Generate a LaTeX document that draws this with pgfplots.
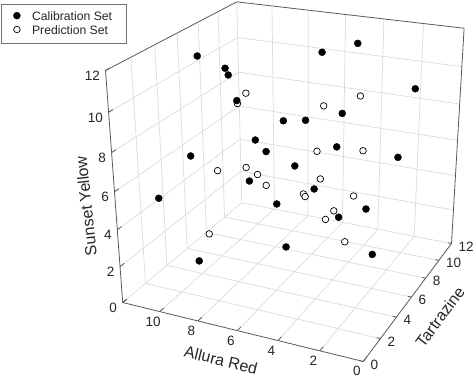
\documentclass[border=0pt]{standalone}
\usepackage{pgfplots}
\usepackage{pgfplotstable}
\pgfplotsset{compat=1.18}
\usepackage{fontspec}
\setmainfont{Liberation Sans}

% perspective projection of (Allura Red a, Tartrazine b, Sunset Yellow c) onto the picture plane
\newcommand\PU{((363.3-19.0375*\thisrow{a}+14.9875*\thisrow{b}-2.41*\thisrow{c})/(1+0.00825*\thisrow{a}+0.0169167*\thisrow{b}-0.0079167*\thisrow{c}))}
\newcommand\PV{(-(361.5-2.42083*\thisrow{a}-5.71083*\thisrow{b}-21.80583*\thisrow{c})/(1+0.00825*\thisrow{a}+0.0169167*\thisrow{b}-0.0079167*\thisrow{c}))}

\pgfplotsset{
  /pgfplots/table/proj/.style={/pgfplots/table/x expr=\PU,/pgfplots/table/y expr=\PV},
  gridc/.style={draw=black!14, line width=0.7pt},
  boxc/.style={draw=black!65, line width=0.8pt},
}
\newcommand\seg[7]{\addplot[#1,forget plot] table[proj,row sep=\\]{a b c\\#2 #3 #4\\#5 #6 #7\\};}
\newcommand\tickfont{\fontsize{13.5}{16}\selectfont}
\newcommand\labfont{\fontsize{16}{19}\selectfont}

% Calibration Set: Allura Red, Tartrazine, Sunset Yellow
\pgfplotstableread{
a b c
10.39 5 11.34
11.15 9 9.32
7.18 2 11.82
7.87 4 9.79
9.78 3 7.01
6.19 9.6 10.67
4.85 10.8 10.95
1.66 10.2 9.19
4.11 7.2 8.58
8.46 10 6.44
4.05 3 9.79
5.44 1 9.37
8.45 8 5.47
5.96 11 4.98
1.76 8.4 6.19
5.03 4 6.95
6.28 2 6.79
6.31 9 3.31
7.41 7 3.12
5.39 10 1.38
3.14 8 3.25
5.01 3 3.15
1.62 5 2.51
10.47 1.2 5.43
8.86 1.8 2.12
}\calib

% Prediction Set
\pgfplotstableread{
a b c
9.50 8 8.53
10.51 9 7.45
8.97 4 5.97
3.71 8.4 9.12
6.26 10 7.63
3.07 2 8.85
2.97 7 6.89
6.95 3 6.93
9.97 10 3.03
6.97 5 5.13
2.91 2 7.54
6.44 8 3.44
6.80 9 2.77
2.19 4 5.95
4.39 7 3.35
3.09 3 5.02
4.62 9 0.56
9.31 3.6 2.62
}\pred

\begin{document}
\begin{tikzpicture}
\begin{axis}[
  at={(0,0)}, anchor=south west,
  scale only axis, width=474pt, height=377pt,
  xmin=0, xmax=474, ymin=-377, ymax=0,
  hide axis, clip=false,
  reverse legend,
  legend image code/.code={\draw[#1] plot coordinates {(9.7pt,1pt)};},
  legend style={at={(axis cs:1,-3.6)}, anchor=north west,
    draw=black!55, line width=0.8pt, fill=white, text=black!85,
    font=\fontsize{12.2}{14.6}\selectfont,
    inner xsep=12pt, inner ysep=5.5pt, row sep=-0.5pt,
    cells={anchor=west}},
]
% grid on the three back planes
\pgfplotsinvokeforeach{2,4,6,8,10}{
  \seg{gridc}{#1}{0}{0}{#1}{12}{0}
  \seg{gridc}{0}{#1}{0}{12}{#1}{0}
  \seg{gridc}{12}{#1}{0}{12}{#1}{12}
  \seg{gridc}{12}{0}{#1}{12}{12}{#1}
  \seg{gridc}{#1}{12}{0}{#1}{12}{12}
  \seg{gridc}{0}{12}{#1}{12}{12}{#1}
}
\seg{gridc}{12}{0}{0}{12}{12}{0}
\seg{gridc}{0}{12}{0}{12}{12}{0}
\seg{gridc}{12}{12}{0}{12}{12}{12}
% box edges
\seg{boxc}{12}{0}{0}{0}{0}{0}
\seg{boxc}{0}{0}{0}{0}{12}{0}
\seg{boxc}{12}{0}{0}{12}{0}{12}
\seg{boxc}{12}{0}{12}{12}{12}{12}
\seg{boxc}{12}{12}{12}{0}{12}{12}
\seg{boxc}{0}{12}{12}{0}{12}{0}
% tick marks
\pgfplotsinvokeforeach{0,2,4,6,8,10,12}{
  \seg{boxc}{#1}{0}{0}{#1}{0.35}{0}
  \seg{boxc}{0}{#1}{0}{0.18}{#1}{0}
  \seg{boxc}{12}{0}{#1}{12}{0.35}{#1}
}
% tick labels
\addplot[only marks, mark=none, forget plot, point meta=explicit symbolic, nodes near coords,
  nodes near coords style={anchor=center, xshift=-6.5pt, yshift=-9.8pt, font=\tickfont, text=black!85, inner sep=0pt}]
  table[proj, meta=l, row sep=\\]{a b c l\\0 0 0 0\\2 0 0 2\\4 0 0 4\\6 0 0 6\\8 0 0 8\\10 0 0 10\\};
\addplot[only marks, mark=none, forget plot, point meta=explicit symbolic, nodes near coords,
  nodes near coords style={anchor=west, xshift=7pt, yshift=-3pt, font=\tickfont, text=black!85, inner sep=0pt}]
  table[proj, meta=l, row sep=\\]{a b c l\\0 0 0 0\\0 2 0 2\\0 4 0 4\\0 6 0 6\\0 8 0 8\\0 10 0 10\\0 12 0 12\\};
\addplot[only marks, mark=none, forget plot, point meta=explicit symbolic, nodes near coords,
  nodes near coords style={anchor=east, xshift=-5.5pt, yshift=-5.3pt, font=\tickfont, text=black!85, inner sep=0pt}]
  table[proj, meta=l, row sep=\\]{a b c l\\12 0 0 0\\12 0 2 2\\12 0 4 4\\12 0 6 6\\12 0 8 8\\12 0 10 10\\12 0 12 12\\};
% data
\addplot[only marks, mark=*, mark size=3.3pt, mark options={fill=white, draw=black, line width=0.7pt}]
  table[proj]{\pred};
\addlegendentry{\hspace*{9.7pt}Prediction Set}
\addplot[only marks, mark=*, mark size=3.5pt, mark options={fill=black, draw=black, line width=0.4pt}]
  table[proj]{\calib};
\addlegendentry{\hspace*{9.7pt}Calibration Set}
% axis labels
\node[rotate=-13.8, font=\labfont, text=black!85] at (axis cs:221,-360) {Allura Red};
\node[rotate=53.2, font=\labfont, text=black!85] at (axis cs:440,-317) {Tartrazine};
\node[rotate=96, font=\labfont, text=black!85] at (axis cs:86,-206) {Sunset Yellow};
\end{axis}
\pgfresetboundingbox
\useasboundingbox (0,0) rectangle (474pt,377pt);
\end{tikzpicture}
\end{document}
